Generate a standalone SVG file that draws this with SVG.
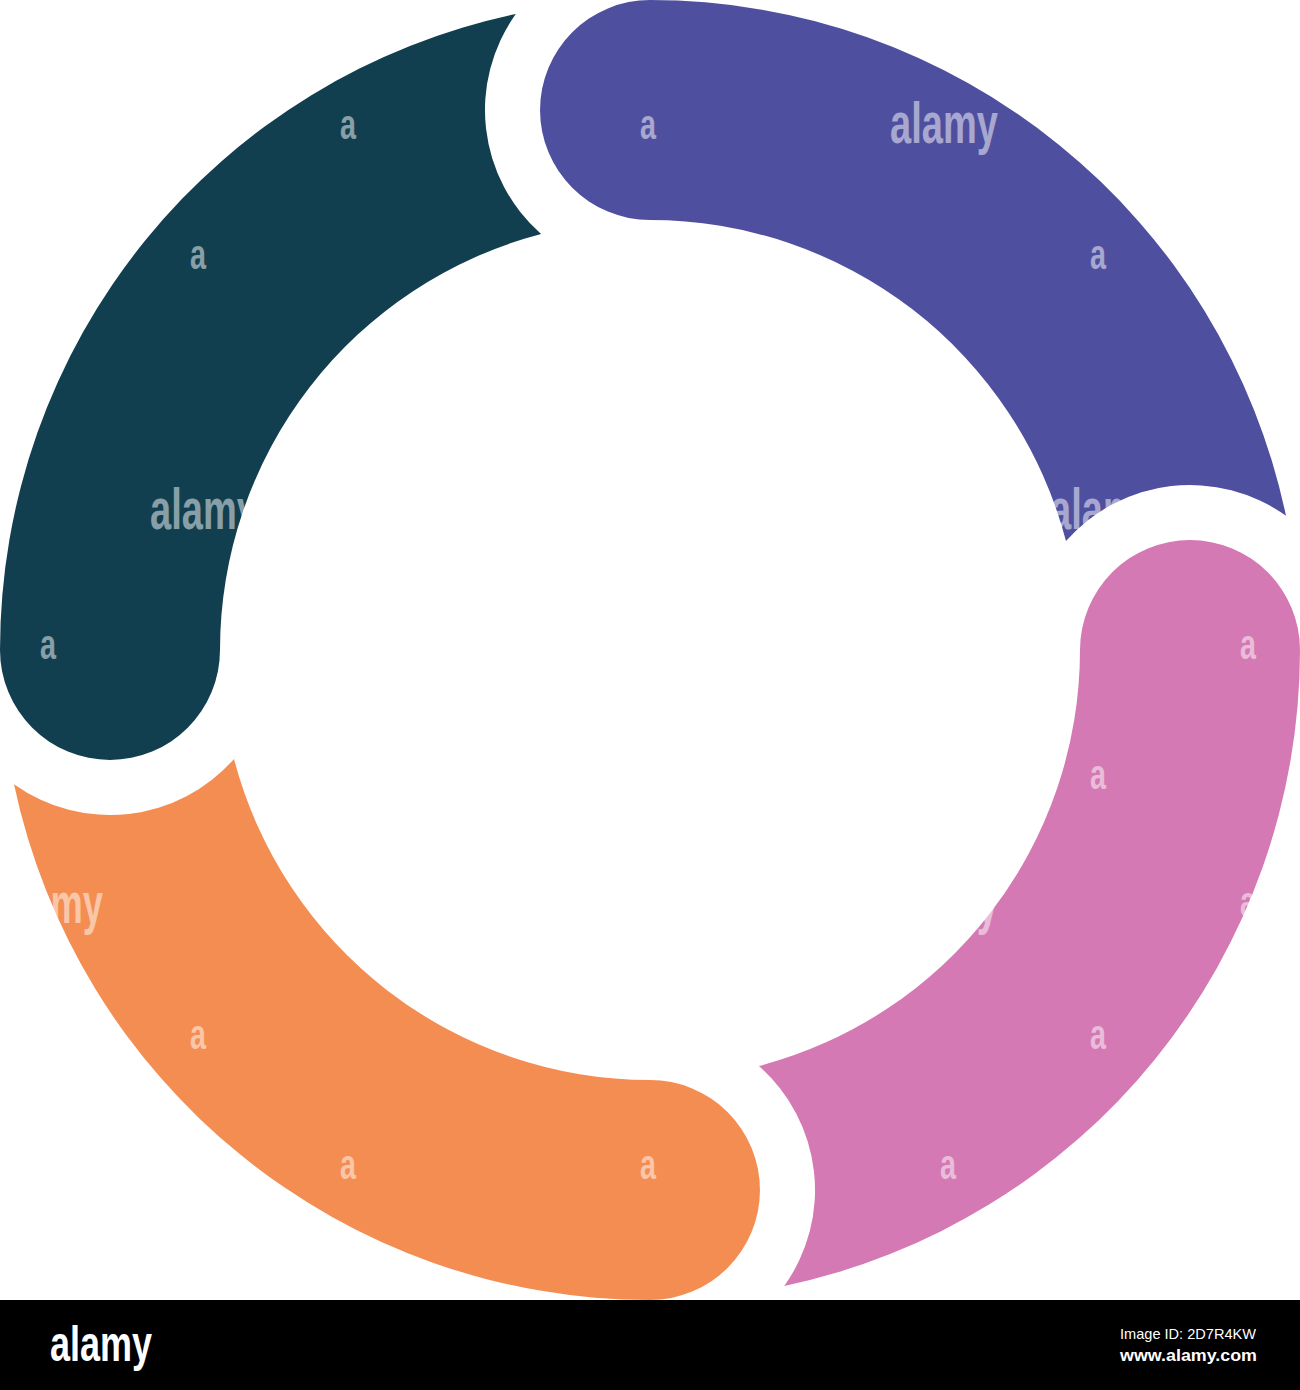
<svg xmlns="http://www.w3.org/2000/svg" width="1300" height="1390" viewBox="0 0 1300 1390">
<style>
.wm{font-family:"Liberation Sans",Arial,sans-serif;font-weight:bold;fill:#ffffff;fill-opacity:0.5}
.wa{font-size:42px}
.wl{font-size:58px}
.bar{font-family:"Liberation Sans",Arial,sans-serif;fill:#ffffff}
</style>
<defs>
<path id="seg" d="M 650 220 A 110 110 0 0 1 650 0 A 650 650 0 0 1 1286 515.8 A 165 165 0 0 0 1066 541.1 A 430 430 0 0 0 650 220 Z"/>
</defs>
<rect x="0" y="0" width="1300" height="1390" fill="#ffffff"/>
<g id="segment-purple"><use href="#seg" fill="#4f4f9f"/></g>
<g id="segment-pink"><use href="#seg" fill="#d479b3" transform="rotate(90 650 650)"/></g>
<g id="segment-orange"><use href="#seg" fill="#f48d52" transform="rotate(180 650 650)"/></g>
<g id="segment-teal"><use href="#seg" fill="#123f4f" transform="rotate(270 650 650)"/></g>
<g id="connectors"></g>
<g id="watermark">
<text class="wm wa" x="340" y="139" textLength="16" lengthAdjust="spacingAndGlyphs">a</text>
<text class="wm wa" x="640" y="139" textLength="16" lengthAdjust="spacingAndGlyphs">a</text>
<text class="wm wl" x="890" y="143" textLength="108" lengthAdjust="spacingAndGlyphs">alamy</text>
<text class="wm wa" x="190" y="269" textLength="16" lengthAdjust="spacingAndGlyphs">a</text>
<text class="wm wa" x="1090" y="269" textLength="16" lengthAdjust="spacingAndGlyphs">a</text>
<text class="wm wl" x="150" y="529" textLength="108" lengthAdjust="spacingAndGlyphs">alamy</text>
<text class="wm wl" x="1050" y="529" textLength="108" lengthAdjust="spacingAndGlyphs">alamy</text>
<text class="wm wa" x="40" y="659" textLength="16" lengthAdjust="spacingAndGlyphs">a</text>
<text class="wm wa" x="1240" y="659" textLength="16" lengthAdjust="spacingAndGlyphs">a</text>
<text class="wm wa" x="1090" y="789" textLength="16" lengthAdjust="spacingAndGlyphs">a</text>
<text class="wm wl" x="0" y="923" textLength="103" lengthAdjust="spacingAndGlyphs">alamy</text>
<text class="wm wl" x="890" y="923" textLength="108" lengthAdjust="spacingAndGlyphs">alamy</text>
<text class="wm wa" x="1240" y="916" textLength="16" lengthAdjust="spacingAndGlyphs">a</text>
<text class="wm wa" x="190" y="1049" textLength="16" lengthAdjust="spacingAndGlyphs">a</text>
<text class="wm wa" x="1090" y="1049" textLength="16" lengthAdjust="spacingAndGlyphs">a</text>
<text class="wm wa" x="340" y="1179" textLength="16" lengthAdjust="spacingAndGlyphs">a</text>
<text class="wm wa" x="640" y="1179" textLength="16" lengthAdjust="spacingAndGlyphs">a</text>
<text class="wm wa" x="940" y="1179" textLength="16" lengthAdjust="spacingAndGlyphs">a</text>
</g>
<g id="footer">
<rect x="0" y="1300" width="1300" height="90" fill="#000000"/>
<text class="bar" x="50" y="1361" font-size="50" font-weight="bold" textLength="102" lengthAdjust="spacingAndGlyphs">alamy</text>
<text class="bar" x="1120" y="1339" font-size="15" textLength="136" lengthAdjust="spacingAndGlyphs">Image ID: 2D7R4KW</text>
<text class="bar" x="1120" y="1361" font-size="17" font-weight="bold" textLength="137" lengthAdjust="spacingAndGlyphs">www.alamy.com</text>
</g>
</svg>
